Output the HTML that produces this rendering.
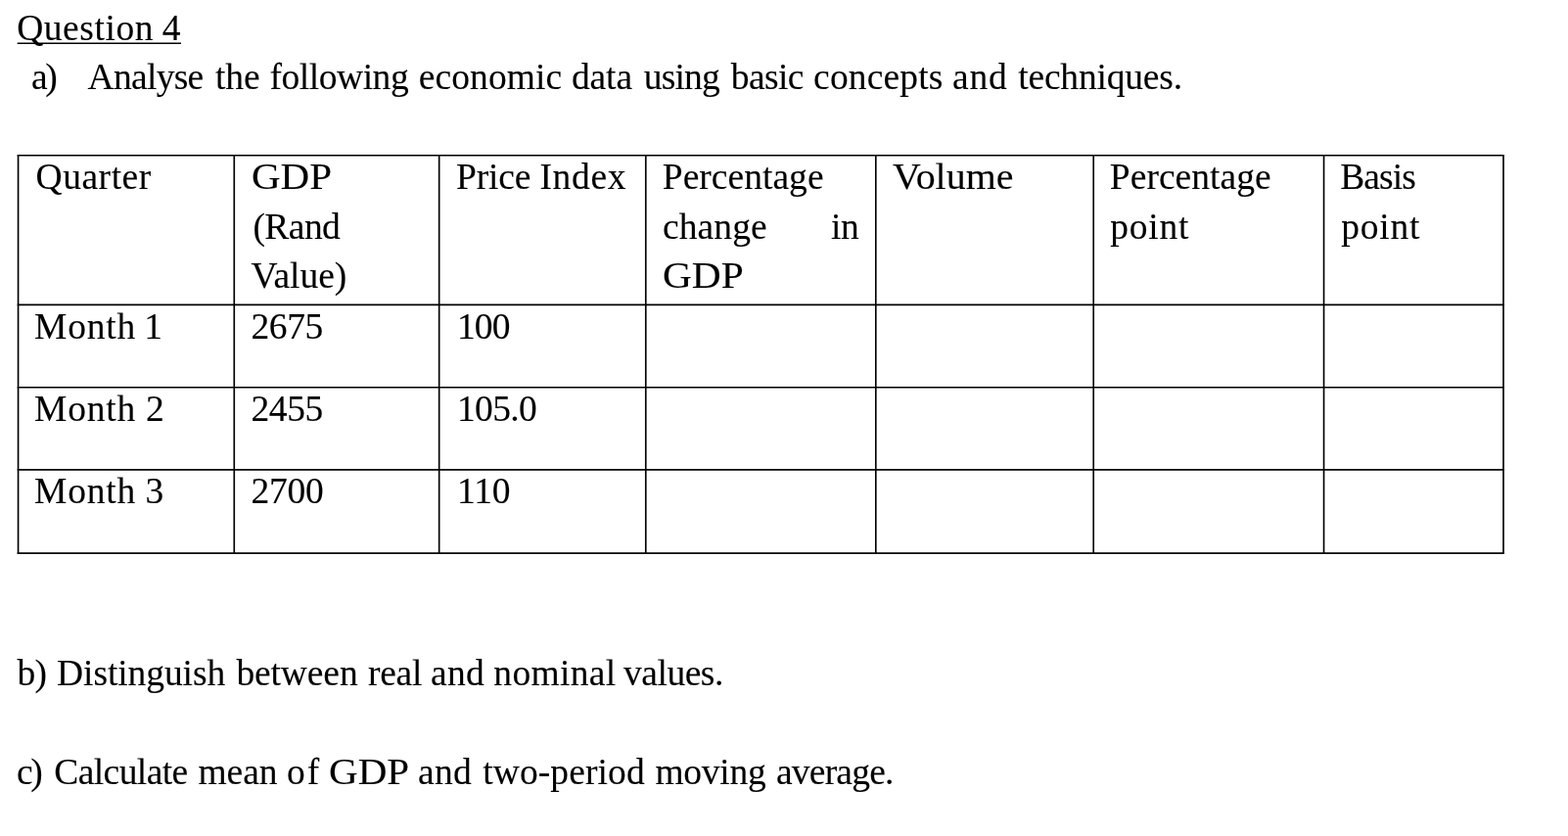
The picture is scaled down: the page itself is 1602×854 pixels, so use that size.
<!DOCTYPE html>
<html lang="en">
<head>
<meta charset="utf-8">
<title>Question 4</title>
<style>
html,body{margin:0;padding:0;background:#fff}
body{width:1602px;height:854px;overflow:hidden}
main{position:absolute;left:0;top:0;width:1602px;height:854px;overflow:hidden;font-family:"Liberation Serif",serif;font-size:37.5px;line-height:1;color:#000}
h1,p{margin:0;font-weight:normal;font-size:inherit}
.w{position:absolute;white-space:pre;line-height:1;transform-origin:0 0;-webkit-text-stroke:0.1px #000}
table{margin:158px 0 0 18px;border-collapse:collapse;table-layout:fixed;border:0}
td,th{padding:0;border:0;font-weight:normal;text-align:left}
svg{position:absolute;left:0;top:0}
</style>
</head>
<body>
<main>
<h1><span class="w" style="left:17.20px;top:10px;letter-spacing:0.549px">Question</span> <span class="w" style="left:165.85px;top:10px">4</span></h1>
<p><span class="w" style="left:32.10px;top:60px;letter-spacing:-2.444px">a)</span> <span class="w" style="left:89.60px;top:60px;letter-spacing:-0.706px">Analyse</span> <span class="w" style="left:220.10px;top:60px;letter-spacing:-0.184px">the</span> <span class="w" style="left:275.50px;top:60px;letter-spacing:-0.459px">following</span> <span class="w" style="left:427.70px;top:60px;letter-spacing:0.111px">economic</span> <span class="w" style="left:583.90px;top:60px;letter-spacing:-0.104px">data</span> <span class="w" style="left:657.70px;top:60px;letter-spacing:-0.778px">using</span> <span class="w" style="left:746.80px;top:60px;letter-spacing:-0.602px">basic</span> <span class="w" style="left:831.10px;top:60px;letter-spacing:0.157px">concepts</span> <span class="w" style="left:973.10px;top:60px;letter-spacing:0.703px">and</span> <span class="w" style="left:1040.20px;top:60px;letter-spacing:-0.186px">techniques.</span></p>
<svg width="1602" height="854" viewBox="0 0 1602 854" aria-hidden="true"><g stroke="#000" stroke-width="1.65" fill="none"><line x1="17.73" y1="158.78" x2="1536.83" y2="158.78"/><line x1="17.73" y1="311.38" x2="1536.83" y2="311.38"/><line x1="17.73" y1="395.78" x2="1536.83" y2="395.78"/><line x1="17.73" y1="479.95" x2="1536.83" y2="479.95" stroke-width="1.8"/><line x1="17.73" y1="565.1" x2="1536.83" y2="565.1"/><line x1="18.56" y1="157.96" x2="18.56" y2="565.93"/><line x1="239.27" y1="157.96" x2="239.27" y2="565.93"/><line x1="448.67" y1="157.96" x2="448.67" y2="565.93"/><line x1="659.78" y1="157.96" x2="659.78" y2="565.93"/><line x1="894.8" y1="157.96" x2="894.8" y2="565.93"/><line x1="1117.2" y1="157.96" x2="1117.2" y2="565.93"/><line x1="1352.55" y1="157.96" x2="1352.55" y2="565.93"/><line x1="1536.0" y1="157.96" x2="1536.0" y2="565.93"/><line x1="17.7" y1="44.37" x2="185" y2="44.37" stroke-width="1.5"/></g></svg>
<table>
<colgroup><col style="width:220.71px"><col style="width:209.40px"><col style="width:211.11px"><col style="width:235.02px"><col style="width:222.40px"><col style="width:235.35px"><col style="width:183.45px"></colgroup>
<tr style="height:152.60px"><th><span class="w" style="left:36.50px;top:162px;letter-spacing:0.546px">Quarter</span></th><th><span class="w" style="left:256.91px;top:162px;transform:scaleX(1.0935)">GDP</span><br><span class="w" style="left:258.40px;top:213px;letter-spacing:-0.549px">(Rand</span><br><span class="w" style="left:256.50px;top:263px;letter-spacing:-0.016px">Value)</span></th><th><span class="w" style="left:466.00px;top:162px;letter-spacing:-0.152px">Price</span> <span class="w" style="left:551.40px;top:162px;letter-spacing:0.667px">Index</span></th><th><span class="w" style="left:676.80px;top:162px;letter-spacing:0.029px">Percentage</span><br><span class="w" style="left:677.00px;top:213px;letter-spacing:0.112px">change</span> <span class="w" style="left:848.90px;top:213px;letter-spacing:-0.319px">in</span><br><span class="w" style="left:676.90px;top:263px;transform:scaleX(1.1030)">GDP</span></th><th><span class="w" style="left:911.60px;top:162px;transform:scaleX(1.0639)">Volume</span></th><th><span class="w" style="left:1133.80px;top:162px;letter-spacing:0.040px">Percentage</span><br><span class="w" style="left:1134.20px;top:213px;letter-spacing:0.758px">point</span></th><th><span class="w" style="left:1369.30px;top:162px;letter-spacing:-0.942px">Basis</span><br><span class="w" style="left:1370.30px;top:213px;letter-spacing:0.758px">point</span></th></tr>
<tr style="height:84.40px"><td><span class="w" style="left:35.10px;top:315px;letter-spacing:0.809px">Month</span> <span class="w" style="left:147.30px;top:315px">1</span></td><td><span class="w" style="left:256.50px;top:315px;letter-spacing:-0.417px">2675</span></td><td><span class="w" style="left:467.00px;top:315px;letter-spacing:-0.900px">100</span></td><td></td><td></td><td></td><td></td></tr>
<tr style="height:84.17px"><td><span class="w" style="left:35.10px;top:399px;letter-spacing:0.809px">Month</span> <span class="w" style="left:149.10px;top:399px">2</span></td><td><span class="w" style="left:256.50px;top:399px;letter-spacing:-0.417px">2455</span></td><td><span class="w" style="left:467.00px;top:399px;letter-spacing:-0.656px">105.0</span></td><td></td><td></td><td></td><td></td></tr>
<tr style="height:85.15px"><td><span class="w" style="left:35.10px;top:483px;letter-spacing:0.809px">Month</span> <span class="w" style="left:148.45px;top:483px">3</span></td><td><span class="w" style="left:256.50px;top:483px;letter-spacing:-0.250px">2700</span></td><td><span class="w" style="left:467.00px;top:483px;letter-spacing:-0.204px">110</span></td><td></td><td></td><td></td><td></td></tr>
</table>
<p><span class="w" style="left:17.40px;top:669px;letter-spacing:-0.550px">b)</span> <span class="w" style="left:58.10px;top:669px;letter-spacing:-0.089px">Distinguish</span> <span class="w" style="left:241.40px;top:669px;letter-spacing:-0.114px">between</span> <span class="w" style="left:376.00px;top:669px;letter-spacing:-0.259px">real</span> <span class="w" style="left:440.00px;top:669px;letter-spacing:0.303px">and</span> <span class="w" style="left:504.30px;top:669px;letter-spacing:0.336px">nominal</span> <span class="w" style="left:637.00px;top:669px;letter-spacing:-0.467px">values.</span></p>
<p><span class="w" style="left:17.10px;top:770px;letter-spacing:-2.444px">c)</span> <span class="w" style="left:55.20px;top:770px;letter-spacing:-0.569px">Calculate</span> <span class="w" style="left:202.50px;top:770px;letter-spacing:-0.052px">mean</span> <span class="w" style="left:293.00px;top:770px;letter-spacing:2.050px">of</span> <span class="w" style="left:336.11px;top:770px;transform:scaleX(1.0948)">GDP</span> <span class="w" style="left:427.00px;top:770px;letter-spacing:0.253px">and</span> <span class="w" style="left:493.20px;top:770px;letter-spacing:0.101px">two-period</span> <span class="w" style="left:669.40px;top:770px;letter-spacing:-0.267px">moving</span> <span class="w" style="left:792.90px;top:770px;letter-spacing:-0.766px">average.</span></p>
</main>
</body>
</html>
